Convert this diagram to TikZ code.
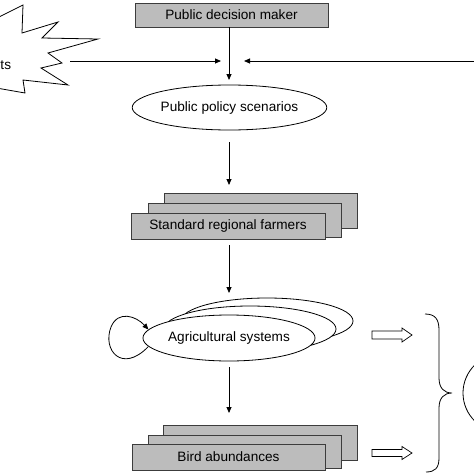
\documentclass[tikz,border=0pt]{standalone}
\usepackage{fontspec}
\setmainfont{Liberation Sans}
\usetikzlibrary{arrows.meta,shapes.geometric}
\definecolor{boxgray}{RGB}{188,188,188}
\definecolor{edgegray}{RGB}{60,60,60}
\tikzset{
  txt/.style={font=\fontsize{13.6}{15}\selectfont},
  graybox/.style={draw=edgegray, line width=0.9pt, fill=boxgray, inner sep=0pt},
  oval/.style={ellipse, draw=black, line width=0.8pt, fill=white, inner sep=0pt, minimum width=172pt, minimum height=46pt},
  conn/.style={line width=0.8pt, -{Triangle[length=6pt,width=5pt]}},
  hollow/.style={draw=black, line width=0.7pt, fill=white}
}
\begin{document}
\begin{tikzpicture}[x=1pt,y=-1pt]
\useasboundingbox (0,0) rectangle (474,474);
\clip (0,0) rectangle (474,474);
\fill[white] (0,0) rectangle (474,474);

% starburst
\draw[line width=0.8pt, fill=white] (-15,24) -- (23,5) -- (22,33) -- (58,22) -- (42,38) -- (98,39) -- (48,53) -- (62,63) -- (41,68) -- (68,85) -- (23,80) -- (25,93) -- (-15,86) -- cycle;
\node[txt, anchor=west, inner sep=0pt] (star) at (0.3,65) {ts};

% public decision maker
\node[graybox, txt, minimum width=193pt, minimum height=24pt] (pdm) at (231.5,15) {Public decision maker};

% public policy scenarios
\node[oval, txt, minimum width=171pt, minimum height=45pt] (pps) at (229.5,107.5) {Public policy scenarios};

% arrows top
\coordinate (pdmin) at (229,80);
\draw[conn] (pdm.south -| pdmin) -- (pdmin);
\coordinate (leftstart) at (70,61);
\coordinate (leftend) at (221,61);
\draw[conn] (leftstart) -- (leftend);
\coordinate (rightstart) at (480,61);
\coordinate (rightend) at (244,61);
\draw[conn] (rightstart) -- (rightend);

% standard regional farmers stack
\node[graybox, minimum width=193pt, minimum height=35pt] (srf3) at (260.5,210.5) {};
\node[graybox, minimum width=193pt, minimum height=34pt] (srf2) at (244.5,220) {};
\node[graybox, txt, minimum width=194pt, minimum height=26pt] (srf) at (228,226) {Standard regional farmers};

\coordinate (a1s) at (229,142);
\coordinate (a1e) at (229,185);
\draw[conn] (a1s) -- (a1e);

% agricultural systems stack
\node[oval] (ag3) at (267,321) {};
\node[oval] (ag2) at (250,329) {};
\node[oval, txt] (ag) at (229,338) {Agricultural systems};

\coordinate (a2s) at (229,245);
\coordinate (a2e) at (229,293);
\draw[conn] (a2s) -- (a2e);

% self loop
\draw[conn] (ag.186) .. controls (122,374) and (102,350) .. (111,327) .. controls (118,310) and (136,316) .. (ag.174);

% bird abundances stack
\node[graybox, minimum width=194pt, minimum height=35pt] (ba3) at (260,442.5) {};
\node[graybox, minimum width=193pt, minimum height=33pt] (ba2) at (244.5,451.5) {};
\node[graybox, txt, minimum width=193pt, minimum height=26pt] (ba) at (228.5,457) {Bird abundances};

\coordinate (a3s) at (229,367);
\coordinate (a3e) at (229,413);
\draw[conn] (a3s) -- (a3e);

% hollow arrows
\draw[hollow] (372,331) -- (402,331) -- (402,328) -- (412,335) -- (402,342) -- (402,339) -- (372,339) -- cycle;
\draw[hollow] (372,449.5) -- (402,449.5) -- (402,446.5) -- (412,453) -- (402,459.5) -- (402,456.5) -- (372,456.5) -- cycle;

% brace
\draw[line width=0.8pt] (425,314) .. controls (435,314) and (439,319) .. (439,330) -- (439,378) .. controls (439,388) and (444,393) .. (452,393) .. controls (444,393) and (439,398) .. (439,408) -- (439,458) .. controls (439,468) and (435,472) .. (426,472);

% partial circle at right
\draw[line width=0.8pt] (504,393) ellipse [x radius=41, y radius=40];
\end{tikzpicture}
\end{document}
